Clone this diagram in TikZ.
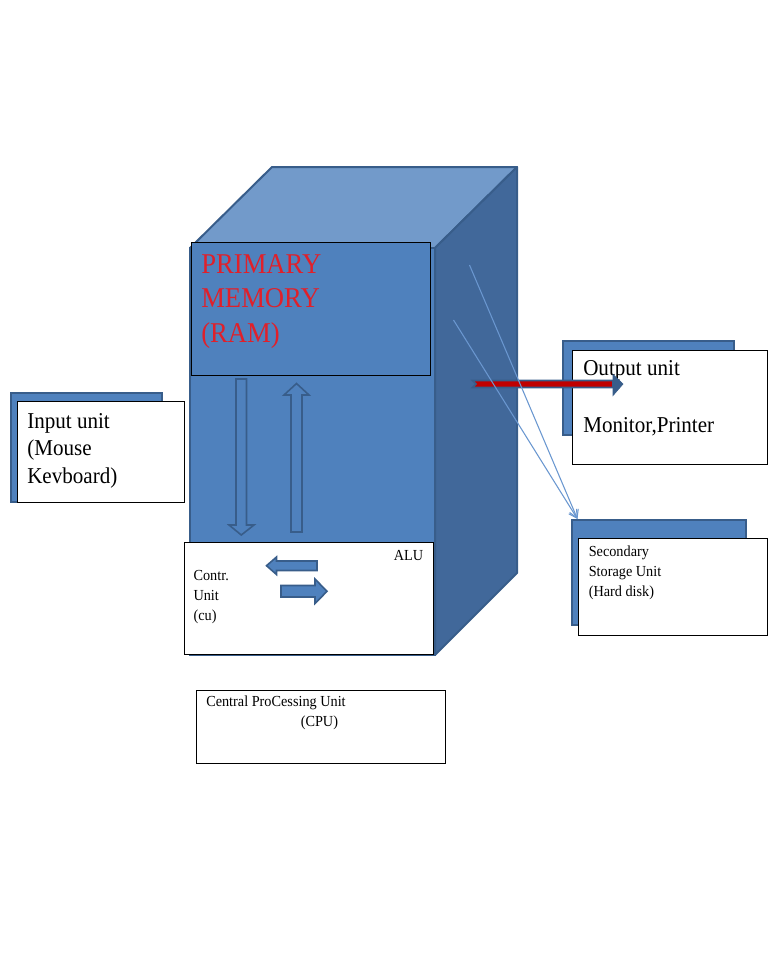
\documentclass[tikz,border=0pt]{standalone}
\usepackage{fontspec}
\setmainfont{Liberation Serif}[FakeStretch=0.93]
\usetikzlibrary{fit,arrows.meta}
\definecolor{front}{HTML}{4F81BD}
\definecolor{topc}{HTML}{729ACA}
\definecolor{side}{HTML}{41689A}
\definecolor{edge}{HTML}{385D8A}
\definecolor{ramred}{HTML}{E0202A}
\definecolor{darkred}{HTML}{C00000}
\definecolor{thinline}{HTML}{6A97D0}
\tikzset{
  whitebox/.style={draw=black, fill=white, line width=0.6pt, inner sep=0pt},
  backbox/.style={draw=edge, fill=front, line width=1.5pt, inner sep=0pt},
  bigtxt/.style={anchor=base west, inner sep=0pt, font=\fontsize{17}{20}\selectfont},
  ramtxt/.style={anchor=base west, inner sep=0pt, text=ramred, font=\fontsize{21.5}{26}\selectfont},
  smalltxt/.style={anchor=base west, inner sep=0pt, font=\fontsize{11.5}{14}\selectfont},
  blockarrow/.style={draw=edge, fill=front, line width=1.2pt, line join=miter},
}
\begin{document}
\begin{tikzpicture}[x=0.75pt,y=-0.75pt]
\useasboundingbox (0,0) rectangle (768,960);
% cube
\filldraw[fill=topc, draw=edge, line width=1.5pt, line join=round] (190,248) -- (272,167) -- (517,167) -- (435,248) -- cycle;
\filldraw[fill=side, draw=edge, line width=1.5pt, line join=round] (435,248) -- (517,167) -- (517,573) -- (435,655) -- cycle;
\filldraw[fill=front, draw=edge, line width=1.5pt] (190,248) rectangle (435,655);
% RAM
\node[fit={(191,242)(430,375)}, draw=black, fill=front, line width=0.6pt, inner sep=0pt] (ram) {};
\node[ramtxt] (ram1) at (201,273) {PRIMARY};
\node[ramtxt] (ram2) at (201,307.5) {MEMORY};
\node[ramtxt] (ram3) at (201,342) {(RAM)};
% hollow arrows
\draw[blockarrow] (236,379) -- (246.5,379) -- (246.5,525) -- (254,525) -- (241.3,535) -- (229,525) -- (236,525) -- cycle;
\draw[blockarrow] (291,532) -- (302,532) -- (302,395) -- (309,395) -- (296.5,383.5) -- (284,395) -- (291,395) -- cycle;
% ALU box
\node[fit={(184,542)(433,654)}, whitebox] (alu) {};
\node[smalltxt] (alut) at (393.5,560) {ALU};
\node[smalltxt] (cu1) at (193.3,580) {Contr.};
\node[smalltxt] (cu2) at (193.3,600) {Unit};
\node[smalltxt] (cu3) at (193.3,620) {(cu)};
\draw[blockarrow] (317,561) -- (317,570.5) -- (276.5,570.5) -- (276.5,574.5) -- (266.5,565.7) -- (276.5,557) -- (276.5,561) -- cycle;
\draw[blockarrow] (281,585.5) -- (315,585.5) -- (315,579) -- (327,591.3) -- (315,603.5) -- (315,597) -- (281,597) -- cycle;
% Input unit
\node[fit={(11,393)(162,502)}, backbox] (inback) {};
\node[fit={(17,401)(184,502)}, whitebox] (inbox) {};
\node[bigtxt] (in1) at (27,428) {Input unit};
\node[bigtxt] (in2) at (27,455.5) {(Mouse};
\node[bigtxt] (in3) at (27,483) {Kevboard)};
% Output unit
\node[fit={(563,341)(734,435)}, backbox] (outback) {};
\node[fit={(572,350)(767,464)}, whitebox] (outbox) {};
\node[bigtxt] (out1) at (583,375) {Output unit};
\node[bigtxt] (out2) at (583,432.5) {Monitor,Printer};
% Secondary storage
\node[fit={(572,520)(746,625)}, backbox] (secback) {};
\node[fit={(578,538)(767,635)}, whitebox] (secbox) {};
\node[smalltxt] (sec1) at (588.5,556.5) {Secondary};
\node[smalltxt] (sec2) at (588.5,576.5) {Storage Unit};
\node[smalltxt] (sec3) at (588.5,596.5) {(Hard disk)};
% CPU label
\node[fit={(196,690)(445,763)}, whitebox] (cpu) {};
\node[smalltxt] (cpu1) at (206,706) {Central ProCessing Unit};
\node[smalltxt] (cpu2) at (300.5,726) {(CPU)};
% red arrow to output
\filldraw[fill=darkred, draw=edge, line width=1.3pt, line join=miter] (472.5,380.5) -- (613,380.5) -- (613,387.5) -- (472.5,387.5) -- (476,384) -- cycle;
\filldraw[fill=edge, draw=edge, line width=0.5pt, line join=miter] (613,374.5) -- (623,384) -- (613,395.5) -- cycle;
% thin lines to secondary storage
\coordinate (s1) at (469.5,265);
\coordinate (s2) at (453.5,320);
\coordinate (se) at (577.5,519);
\draw[thinline, line width=0.8pt, -{Straight Barb[length=6pt,width=7pt]}] (s1) -- (se);
\draw[thinline, line width=0.8pt, -{Straight Barb[length=6pt,width=7pt]}] (s2) -- (se);
\end{tikzpicture}
\end{document}
